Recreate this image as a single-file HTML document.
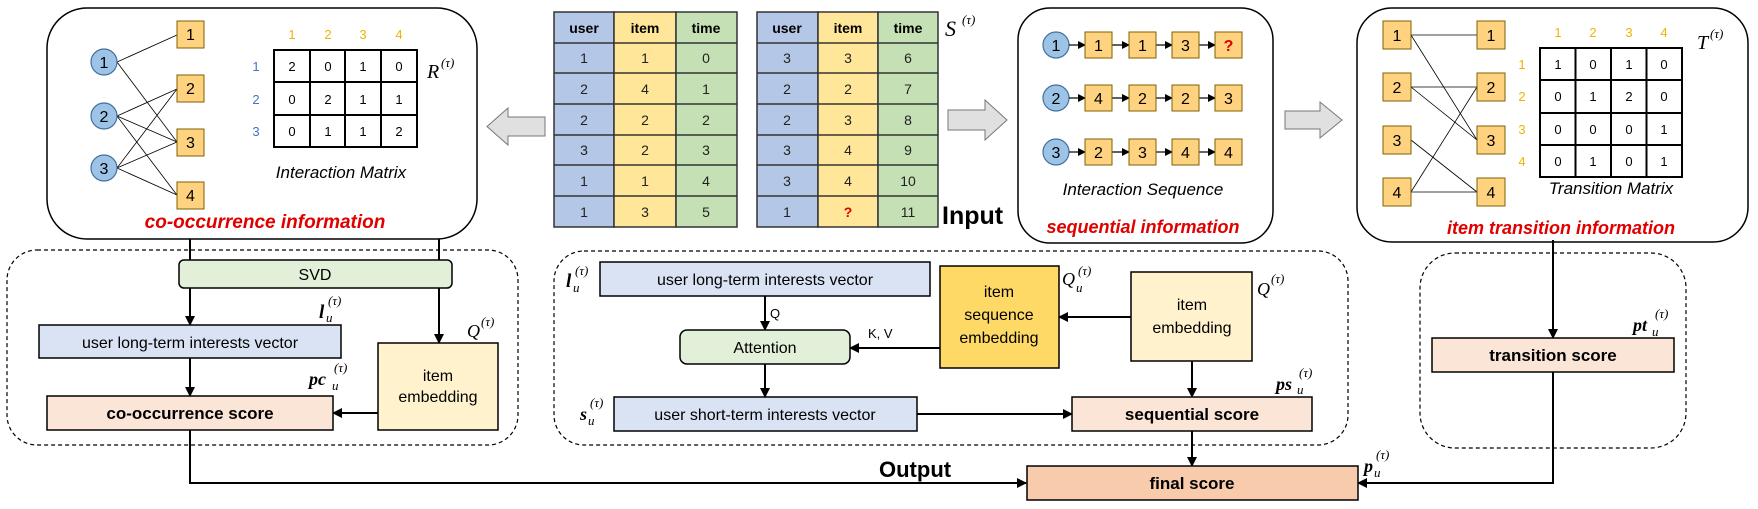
<!DOCTYPE html>
<html><head><meta charset="utf-8"><style>
html,body{margin:0;padding:0;background:#fff;}
svg{display:block;}
text{font-family:"Liberation Sans",Arial,sans-serif;}
.m{font-family:"Liberation Serif",serif;font-style:italic;}
</style></head><body>
<svg width="1758" height="509" viewBox="0 0 1758 509" xmlns="http://www.w3.org/2000/svg">
<defs>
<marker id="ah" markerWidth="10" markerHeight="10" refX="9" refY="5" orient="auto" markerUnits="userSpaceOnUse"><path d="M0,0 L10,5 L0,10 z" fill="#000"/></marker>
<marker id="as" markerWidth="8" markerHeight="8" refX="7" refY="4" orient="auto" markerUnits="userSpaceOnUse"><path d="M0,0 L8,4 L0,8 z" fill="#000"/></marker>
</defs>

<!-- ===== Panel 1: co-occurrence ===== -->
<rect x="47" y="8" width="430" height="231" rx="40" fill="#fff" stroke="#000" stroke-width="1.5"/>
<g stroke="#000" stroke-width="0.8">
<line x1="117" y1="62" x2="177" y2="35"/><line x1="117" y1="62" x2="177" y2="142"/>
<line x1="117" y1="116" x2="177" y2="89"/><line x1="117" y1="116" x2="177" y2="142"/><line x1="117" y1="116" x2="177" y2="195"/>
<line x1="117" y1="168" x2="177" y2="89"/><line x1="117" y1="168" x2="177" y2="142"/><line x1="117" y1="168" x2="177" y2="195"/>
</g>
<g fill="#9dc3e6" stroke="#41719c" stroke-width="1.2">
<circle cx="104" cy="62" r="13"/><circle cx="104" cy="116" r="13"/><circle cx="104" cy="168" r="13"/>
</g>
<g font-size="16" text-anchor="middle"><text x="104" y="68">1</text><text x="104" y="122">2</text><text x="104" y="174">3</text></g>
<g fill="#ffd280" stroke="#7f6000" stroke-width="1"><rect x="177" y="21" width="27" height="27"/><rect x="177" y="75" width="27" height="27"/><rect x="177" y="129" width="27" height="27"/><rect x="177" y="182" width="27" height="27"/></g>
<g font-size="16" text-anchor="middle"><text x="190.5" y="40">1</text><text x="190.5" y="94">2</text><text x="190.5" y="148">3</text><text x="190.5" y="201">4</text></g>
<!-- matrix R -->
<g stroke="#000" stroke-width="2" fill="none"><rect x="274" y="50" width="143" height="97"/>
<line x1="310" y1="50" x2="310" y2="147"/><line x1="345" y1="50" x2="345" y2="147"/><line x1="381" y1="50" x2="381" y2="147"/>
<line x1="274" y1="82" x2="417" y2="82"/><line x1="274" y1="115" x2="417" y2="115"/></g>
<g font-size="13" text-anchor="middle">
<text x="292" y="71">2</text><text x="328" y="71">0</text><text x="363" y="71">1</text><text x="399" y="71">0</text>
<text x="292" y="104">0</text><text x="328" y="104">2</text><text x="363" y="104">1</text><text x="399" y="104">1</text>
<text x="292" y="136">0</text><text x="328" y="136">1</text><text x="363" y="136">1</text><text x="399" y="136">2</text></g>
<g font-size="13" text-anchor="middle" fill="#f0b400"><text x="292" y="39">1</text><text x="328" y="39">2</text><text x="363" y="39">3</text><text x="399" y="39">4</text></g>
<g font-size="13" text-anchor="middle" fill="#4472c4"><text x="256" y="71">1</text><text x="256" y="104">2</text><text x="256" y="136">3</text></g>
<text x="427" y="78" class="m" font-size="20" font-style="italic">R</text><text x="441" y="67" class="m" font-size="13">(τ)</text>
<text x="341" y="178" font-size="17" font-style="italic" text-anchor="middle">Interaction Matrix</text>
<text x="265" y="228" font-size="19" font-weight="bold" font-style="italic" fill="#e00000" text-anchor="middle">co-occurrence information</text>

<!-- left block arrow -->
<path d="M545,117 L508,117 L508,108 L487,126.5 L508,145 L508,136 L545,136 z" fill="#e0e0e0" stroke="#777" stroke-width="1"/>

<!-- ===== Tables ===== -->
<g stroke="#333" stroke-width="1.5">
<rect x="554" y="12" width="60" height="215" fill="#b4c7e7"/><rect x="614" y="12" width="62" height="215" fill="#ffe699"/><rect x="676" y="12" width="61" height="215" fill="#c5e0b4"/>
<rect x="757" y="12" width="61" height="215" fill="#b4c7e7"/><rect x="818" y="12" width="60" height="215" fill="#ffe699"/><rect x="878" y="12" width="60" height="215" fill="#c5e0b4"/>
<line x1="554" y1="43" x2="737" y2="43"/><line x1="554" y1="73" x2="737" y2="73"/><line x1="554" y1="104" x2="737" y2="104"/><line x1="554" y1="135" x2="737" y2="135"/><line x1="554" y1="165" x2="737" y2="165"/><line x1="554" y1="196" x2="737" y2="196"/>
<line x1="757" y1="43" x2="938" y2="43"/><line x1="757" y1="73" x2="938" y2="73"/><line x1="757" y1="104" x2="938" y2="104"/><line x1="757" y1="135" x2="938" y2="135"/><line x1="757" y1="165" x2="938" y2="165"/><line x1="757" y1="196" x2="938" y2="196"/>
</g>
<g font-size="14" text-anchor="middle" font-weight="bold">
<text x="584" y="33">user</text><text x="645" y="33">item</text><text x="706" y="33">time</text>
<text x="787" y="33">user</text><text x="848" y="33">item</text><text x="908" y="33">time</text></g>
<g font-size="14" text-anchor="middle" fill="#222">
<text x="584" y="63">1</text><text x="645" y="63">1</text><text x="706" y="63">0</text>
<text x="584" y="94">2</text><text x="645" y="94">4</text><text x="706" y="94">1</text>
<text x="584" y="125">2</text><text x="645" y="125">2</text><text x="706" y="125">2</text>
<text x="584" y="155">3</text><text x="645" y="155">2</text><text x="706" y="155">3</text>
<text x="584" y="186">1</text><text x="645" y="186">1</text><text x="706" y="186">4</text>
<text x="584" y="217">1</text><text x="645" y="217">3</text><text x="706" y="217">5</text>
<text x="787" y="63">3</text><text x="848" y="63">3</text><text x="908" y="63">6</text>
<text x="787" y="94">2</text><text x="848" y="94">2</text><text x="908" y="94">7</text>
<text x="787" y="125">2</text><text x="848" y="125">3</text><text x="908" y="125">8</text>
<text x="787" y="155">3</text><text x="848" y="155">4</text><text x="908" y="155">9</text>
<text x="787" y="186">3</text><text x="848" y="186">4</text><text x="908" y="186">10</text>
<text x="787" y="217">1</text><text x="848" y="217" fill="#e00000" font-weight="bold">?</text><text x="908" y="217">11</text></g>
<text x="945" y="36" class="m" font-size="22" font-style="italic">S</text><text x="962" y="24" class="m" font-size="13">(τ)</text>
<text x="942" y="224" font-size="25" font-weight="bold">Input</text>

<!-- right block arrow 1 -->
<path d="M948,110 L985,110 L985,100 L1007,120 L985,140 L985,130 L948,130 z" fill="#e0e0e0" stroke="#777" stroke-width="1"/>

<!-- ===== Panel 2: sequence ===== -->
<rect x="1018" y="8" width="255" height="235" rx="32" fill="#fff" stroke="#000" stroke-width="1.5"/>
<g fill="#9dc3e6" stroke="#41719c" stroke-width="1.2"><circle cx="1056" cy="45" r="13"/><circle cx="1056" cy="98" r="13"/><circle cx="1056" cy="152" r="13"/></g>
<g font-size="16" text-anchor="middle"><text x="1056" y="51">1</text><text x="1056" y="104">2</text><text x="1056" y="158">3</text></g>
<g stroke="#000" stroke-width="1.2">
<line x1="1069" y1="45" x2="1085" y2="45" marker-end="url(#as)"/><line x1="1112" y1="45" x2="1129" y2="45" marker-end="url(#as)"/><line x1="1156" y1="45" x2="1172" y2="45" marker-end="url(#as)"/><line x1="1199" y1="45" x2="1215" y2="45" marker-end="url(#as)"/>
<line x1="1069" y1="98" x2="1085" y2="98" marker-end="url(#as)"/><line x1="1112" y1="98" x2="1129" y2="98" marker-end="url(#as)"/><line x1="1156" y1="98" x2="1172" y2="98" marker-end="url(#as)"/><line x1="1199" y1="98" x2="1215" y2="98" marker-end="url(#as)"/>
<line x1="1069" y1="152" x2="1085" y2="152" marker-end="url(#as)"/><line x1="1112" y1="152" x2="1129" y2="152" marker-end="url(#as)"/><line x1="1156" y1="152" x2="1172" y2="152" marker-end="url(#as)"/><line x1="1199" y1="152" x2="1215" y2="152" marker-end="url(#as)"/>
</g>
<g fill="#ffd280" stroke="#7f6000" stroke-width="1">
<rect x="1085" y="32" width="27" height="26"/><rect x="1129" y="32" width="27" height="26"/><rect x="1172" y="32" width="27" height="26"/><rect x="1215" y="32" width="27" height="26"/>
<rect x="1085" y="85" width="27" height="26"/><rect x="1129" y="85" width="27" height="26"/><rect x="1172" y="85" width="27" height="26"/><rect x="1215" y="85" width="27" height="26"/>
<rect x="1085" y="139" width="27" height="26"/><rect x="1129" y="139" width="27" height="26"/><rect x="1172" y="139" width="27" height="26"/><rect x="1215" y="139" width="27" height="26"/></g>
<g font-size="16" text-anchor="middle">
<text x="1098.5" y="51">1</text><text x="1142.5" y="51">1</text><text x="1185.5" y="51">3</text><text x="1228.5" y="51" fill="#e00000" font-weight="bold">?</text>
<text x="1098.5" y="104">4</text><text x="1142.5" y="104">2</text><text x="1185.5" y="104">2</text><text x="1228.5" y="104">3</text>
<text x="1098.5" y="158">2</text><text x="1142.5" y="158">3</text><text x="1185.5" y="158">4</text><text x="1228.5" y="158">4</text></g>
<text x="1143" y="195" font-size="17" font-style="italic" text-anchor="middle">Interaction Sequence</text>
<text x="1143" y="233" font-size="18" font-weight="bold" font-style="italic" fill="#e00000" text-anchor="middle">sequential information</text>

<!-- right block arrow 2 -->
<path d="M1285,111 L1320,111 L1320,102 L1342,120 L1320,138 L1320,129 L1285,129 z" fill="#e0e0e0" stroke="#777" stroke-width="1"/>

<!-- ===== Panel 3: transition ===== -->
<rect x="1357" y="8" width="391" height="234" rx="35" fill="#fff" stroke="#000" stroke-width="1.5"/>
<g stroke="#000" stroke-width="0.8">
<line x1="1411" y1="35" x2="1477" y2="35"/><line x1="1411" y1="35" x2="1477" y2="140"/>
<line x1="1411" y1="87" x2="1477" y2="87"/><line x1="1411" y1="87" x2="1477" y2="140"/>
<line x1="1411" y1="140" x2="1477" y2="192"/>
<line x1="1411" y1="192" x2="1477" y2="87"/><line x1="1411" y1="192" x2="1477" y2="192"/></g>
<g fill="#ffd280" stroke="#7f6000" stroke-width="1">
<rect x="1383" y="21" width="28" height="28"/><rect x="1383" y="73" width="28" height="28"/><rect x="1383" y="126" width="28" height="28"/><rect x="1383" y="178" width="28" height="28"/>
<rect x="1477" y="21" width="28" height="28"/><rect x="1477" y="73" width="28" height="28"/><rect x="1477" y="126" width="28" height="28"/><rect x="1477" y="178" width="28" height="28"/></g>
<g font-size="16" text-anchor="middle">
<text x="1397" y="41">1</text><text x="1397" y="93">2</text><text x="1397" y="146">3</text><text x="1397" y="198">4</text>
<text x="1491" y="41">1</text><text x="1491" y="93">2</text><text x="1491" y="146">3</text><text x="1491" y="198">4</text></g>
<g stroke="#000" stroke-width="2" fill="none"><rect x="1540" y="48" width="142" height="129"/>
<line x1="1575.5" y1="48" x2="1575.5" y2="177"/><line x1="1611" y1="48" x2="1611" y2="177"/><line x1="1646.5" y1="48" x2="1646.5" y2="177"/>
<line x1="1540" y1="80" x2="1682" y2="80"/><line x1="1540" y1="113" x2="1682" y2="113"/><line x1="1540" y1="145" x2="1682" y2="145"/></g>
<g font-size="13" text-anchor="middle">
<text x="1558" y="69">1</text><text x="1593" y="69">0</text><text x="1629" y="69">1</text><text x="1664" y="69">0</text>
<text x="1558" y="101">0</text><text x="1593" y="101">1</text><text x="1629" y="101">2</text><text x="1664" y="101">0</text>
<text x="1558" y="134">0</text><text x="1593" y="134">0</text><text x="1629" y="134">0</text><text x="1664" y="134">1</text>
<text x="1558" y="166">0</text><text x="1593" y="166">1</text><text x="1629" y="166">0</text><text x="1664" y="166">1</text></g>
<g font-size="13" text-anchor="middle" fill="#f0b400">
<text x="1558" y="37">1</text><text x="1593" y="37">2</text><text x="1629" y="37">3</text><text x="1664" y="37">4</text>
<text x="1522" y="69">1</text><text x="1522" y="101">2</text><text x="1522" y="134">3</text><text x="1522" y="166">4</text></g>
<text x="1697" y="49" class="m" font-size="20" font-style="italic">T</text><text x="1710" y="38" class="m" font-size="13">(τ)</text>
<text x="1611" y="194" font-size="17" font-style="italic" text-anchor="middle">Transition Matrix</text>
<text x="1561" y="234" font-size="18" font-weight="bold" font-style="italic" fill="#e00000" text-anchor="middle">item transition information</text>

<!-- ===== Dashed groups ===== -->
<g fill="none" stroke="#000" stroke-width="1.2" stroke-dasharray="4,3">
<rect x="7" y="250" width="511" height="195" rx="30"/>
<rect x="554" y="251" width="794" height="194" rx="30"/>
<rect x="1420" y="253" width="266" height="195" rx="35"/>
</g>

<!-- ===== Left module ===== -->
<g stroke="#000" stroke-width="2" fill="none">
<line x1="190" y1="239" x2="190" y2="260"/><line x1="439" y1="239" x2="439" y2="260"/>
<line x1="190" y1="288" x2="190" y2="325" marker-end="url(#ah)"/>
<line x1="439" y1="288" x2="439" y2="343" marker-end="url(#ah)"/>
<line x1="190" y1="358" x2="190" y2="396" marker-end="url(#ah)"/>
<line x1="378" y1="413" x2="333" y2="413" marker-end="url(#ah)"/>
<polyline points="190,430 190,483 1026,483" marker-end="url(#ah)"/>
</g>
<rect x="179" y="260" width="273" height="28" rx="5" fill="#e2f0d9" stroke="#000" stroke-width="1.5"/>
<text x="315" y="280" font-size="16" text-anchor="middle">SVD</text>
<rect x="39" y="325" width="302" height="33" fill="#dae3f3" stroke="#000" stroke-width="1.5"/>
<text x="190" y="348" font-size="16" text-anchor="middle">user long-term interests vector</text>
<rect x="378" y="343" width="120" height="87" fill="#fff2cc" stroke="#000" stroke-width="1.5"/>
<text x="438" y="381" font-size="16" text-anchor="middle">item</text><text x="438" y="402" font-size="16" text-anchor="middle">embedding</text>
<rect x="47" y="396" width="286" height="34" fill="#fbe5d6" stroke="#000" stroke-width="1.5"/>
<text x="190" y="419" font-size="17" font-weight="bold" text-anchor="middle">co-occurrence score</text>
<text x="319" y="318" class="m" font-size="19" font-weight="bold">l</text><text x="326" y="322" class="m" font-size="13">u</text><text x="328" y="305" class="m" font-size="13">(τ)</text>
<text x="467" y="337" class="m" font-size="18">Q</text><text x="481" y="326" class="m" font-size="13">(τ)</text>
<text x="309" y="385" class="m" font-size="18" font-weight="bold">pc</text><text x="332" y="390" class="m" font-size="13">u</text><text x="334" y="372" class="m" font-size="13">(τ)</text>

<!-- ===== Middle module ===== -->
<g stroke="#000" stroke-width="2" fill="none">
<line x1="765" y1="296" x2="765" y2="330" marker-end="url(#ah)"/>
<line x1="940" y1="348" x2="850" y2="348" marker-end="url(#ah)"/>
<line x1="1131" y1="317" x2="1059" y2="317" marker-end="url(#ah)"/>
<line x1="765" y1="364" x2="765" y2="397" marker-end="url(#ah)"/>
<line x1="917" y1="414" x2="1072" y2="414" marker-end="url(#ah)"/>
<line x1="1192" y1="361" x2="1192" y2="397" marker-end="url(#ah)"/>
<line x1="1192" y1="431" x2="1192" y2="466" marker-end="url(#ah)"/>
<polyline points="1553,240 1553,338" marker-end="url(#ah)"/>
<polyline points="1553,372 1553,483 1358,483" marker-end="url(#ah)"/>
</g>
<rect x="600" y="262" width="330" height="34" fill="#dae3f3" stroke="#000" stroke-width="1.5"/>
<text x="765" y="285" font-size="16" text-anchor="middle">user long-term interests vector</text>
<rect x="940" y="266" width="119" height="102" fill="#ffd966" stroke="#000" stroke-width="1.5"/>
<text x="999" y="297" font-size="16" text-anchor="middle">item</text><text x="999" y="320" font-size="16" text-anchor="middle">sequence</text><text x="999" y="343" font-size="16" text-anchor="middle">embedding</text>
<rect x="1131" y="272" width="121" height="89" fill="#fff2cc" stroke="#000" stroke-width="1.5"/>
<text x="1192" y="310" font-size="16" text-anchor="middle">item</text><text x="1192" y="333" font-size="16" text-anchor="middle">embedding</text>
<rect x="680" y="330" width="170" height="34" rx="7" fill="#e2f0d9" stroke="#000" stroke-width="1.5"/>
<text x="765" y="353" font-size="16" text-anchor="middle">Attention</text>
<text x="770" y="318" font-size="13">Q</text>
<text x="868" y="338" font-size="13">K, V</text>
<rect x="614" y="397" width="303" height="34" fill="#dae3f3" stroke="#000" stroke-width="1.5"/>
<text x="765" y="420" font-size="16" text-anchor="middle">user short-term interests vector</text>
<rect x="1072" y="397" width="240" height="34" fill="#fbe5d6" stroke="#000" stroke-width="1.5"/>
<text x="1192" y="420" font-size="17" font-weight="bold" text-anchor="middle">sequential score</text>
<rect x="1027" y="466" width="331" height="34" fill="#f8cbad" stroke="#000" stroke-width="1.5"/>
<text x="1192" y="489" font-size="17" font-weight="bold" text-anchor="middle">final score</text>
<text x="879" y="477" font-size="22" font-weight="bold">Output</text>
<text x="566" y="287" class="m" font-size="19" font-weight="bold">l</text><text x="573" y="292" class="m" font-size="13">u</text><text x="575" y="275" class="m" font-size="13">(τ)</text>
<text x="1062" y="285" class="m" font-size="18">Q</text><text x="1076" y="292" class="m" font-size="13">u</text><text x="1078" y="275" class="m" font-size="13">(τ)</text>
<text x="1257" y="295" class="m" font-size="18">Q</text><text x="1271" y="283" class="m" font-size="13">(τ)</text>
<text x="580" y="420" class="m" font-size="18" font-weight="bold">s</text><text x="588" y="425" class="m" font-size="13">u</text><text x="590" y="407" class="m" font-size="13">(τ)</text>
<text x="1276" y="390" class="m" font-size="18" font-weight="bold">ps</text><text x="1297" y="394" class="m" font-size="13">u</text><text x="1299" y="377" class="m" font-size="13">(τ)</text>

<!-- ===== Right module ===== -->
<rect x="1432" y="338" width="242" height="34" fill="#fbe5d6" stroke="#000" stroke-width="1.5"/>
<text x="1553" y="361" font-size="17" font-weight="bold" text-anchor="middle">transition score</text>
<text x="1633" y="331" class="m" font-size="18" font-weight="bold">pt</text><text x="1652" y="336" class="m" font-size="13">u</text><text x="1655" y="318" class="m" font-size="13">(τ)</text>
<text x="1364" y="472" class="m" font-size="18" font-weight="bold">p</text><text x="1374" y="477" class="m" font-size="13">u</text><text x="1376" y="459" class="m" font-size="13">(τ)</text>
</svg>
</body></html>
